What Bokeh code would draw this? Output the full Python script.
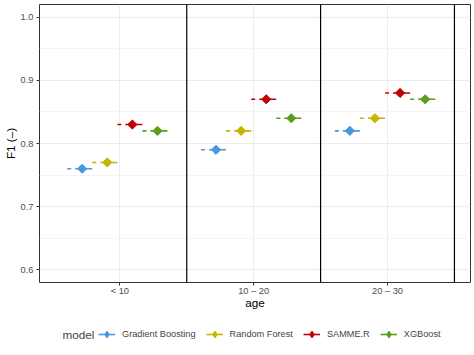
import numpy as np
from bokeh.plotting import figure
from bokeh.layouts import column
from bokeh.models import (Range1d, FixedTicker, Span, Legend, LegendItem, Label,
                          ColumnDataSource)
from bokeh.embed import file_html
from bokeh.resources import INLINE

ages = ["< 10", "10 – 20", "20 – 30"]
models = ["Gradient Boosting", "Random Forest", "SAMME.R", "XGBoost"]
colors = ["#4a96e0", "#c8b400", "#c00000", "#5a9e1a"]
gb = [0.76, 0.79, 0.82]
rf = [0.77, 0.82, 0.84]
samme = [0.83, 0.87, 0.88]
xgb = [0.82, 0.84, 0.87]
series = [gb, rf, samme, xgb]
y_ticks = [0.6, 0.7, 0.8, 0.9, 1.0]
y_minor = [0.65, 0.75, 0.85, 0.95]

FONT = "Liberation Sans"
dodge = 0.75
MAIN_H = 311
LEG_H = 355 - MAIN_H
LEG_Y = 334  # vertical centre of the legend row in page pixels

p = figure(width=474, height=MAIN_H, output_backend="svg", toolbar_location=None,
           x_range=Range1d(0.4, 3.62), y_range=Range1d(0.58, 1.02),
           min_border_left=38, min_border_right=4, min_border_top=4,
           min_border_bottom=0)
p.background_fill_color = "white"
p.border_fill_color = "white"
p.outline_line_color = "#333333"
p.outline_line_width = 1

base = np.arange(1, len(ages) + 1)
n = len(models)
offsets = (np.arange(n) - (n - 1) / 2) * dodge / n

for k, (m, c, vals) in enumerate(zip(models, colors, series)):
    xs = base + offsets[k]
    src = ColumnDataSource(dict(x=xs, y=vals, x0=xs - 0.112, x1=xs + 0.075))
    p.segment(x0="x0", y0="y", x1="x1", y1="y", source=src, line_color=c,
              line_width=1.6, line_dash="4 4 20 60")
    p.scatter(x="x", y="y", source=src, marker="square", angle=np.pi / 4,
              size=6.5, fill_color=c, line_color=c)

for b in base:
    p.add_layout(Span(location=b + 0.5, dimension="height", line_color="black",
                      line_width=1.2))

# axes
p.xaxis.ticker = FixedTicker(ticks=list(base))
p.xaxis.major_label_overrides = {int(b): a for b, a in zip(base, ages)}
p.yaxis.ticker = FixedTicker(ticks=y_ticks, minor_ticks=y_minor)
p.yaxis.major_label_overrides = {t: f"{t:.1f}" for t in y_ticks}
for ax in (p.xaxis[0], p.yaxis[0]):
    ax.axis_line_color = None
    ax.major_tick_line_color = "#333333"
    ax.major_tick_in = 0
    ax.major_tick_out = 3
    ax.minor_tick_line_color = None
    ax.major_label_text_font = FONT
    ax.major_label_text_font_size = "9.3px"
    ax.major_label_text_color = "#4d4d4d"
    ax.axis_label_text_font = FONT
    ax.axis_label_text_font_size = "11.7px"
    ax.axis_label_text_font_style = "normal"
    ax.axis_label_text_color = "black"
p.xaxis.axis_label = "age"
p.yaxis.axis_label = "F1 (–)"
p.xaxis.major_label_standoff = 0
p.xaxis.axis_label_standoff = -3
p.yaxis.major_label_standoff = 2
p.yaxis.axis_label_standoff = 1

p.xgrid.grid_line_color = "#ebebeb"
p.ygrid.grid_line_color = "#ebebeb"
p.ygrid.minor_grid_line_color = "#f4f4f4"

# legend figure (its frame is aligned with the main plot's frame by the column)
FRAME_LEFT = 40
lf = figure(width=474, height=LEG_H, output_backend="svg", toolbar_location=None,
            x_range=Range1d(0, 1), y_range=Range1d(0, 1),
            min_border=0, outline_line_color=None)
lf.axis.visible = False
lf.grid.visible = False
leg_items = []
for m, c in zip(models, colors):
    # legend-key renderers; their single point lies outside the visible range
    lr = lf.line(x=[-5, -4], y=[-5, -5], line_color=c, line_width=1.6)
    sr = lf.scatter(x=[-5], y=[-5], marker="diamond", size=11,
                    fill_color=c, line_color=c)
    leg_items.append(LegendItem(label=m, renderers=[lr, sr]))
row_y = LEG_H - (LEG_Y - MAIN_H)
legend = Legend(items=leg_items, orientation="horizontal",
                location=(99 - FRAME_LEFT, row_y - 9),
                label_text_font=FONT, label_text_font_size="9.2px",
                glyph_width=17, glyph_height=18, label_standoff=7, spacing=10,
                padding=0, margin=0, border_line_color=None,
                background_fill_alpha=0, label_height=18)
lf.add_layout(legend, "center")
lf.add_layout(Label(x=63 - FRAME_LEFT, y=row_y, x_units="screen",
                    y_units="screen", text="model", text_font=FONT,
                    text_font_size="11.7px", text_baseline="middle"))

open("out.html", "w").write(file_html(column(p, lf, spacing=0), INLINE))
